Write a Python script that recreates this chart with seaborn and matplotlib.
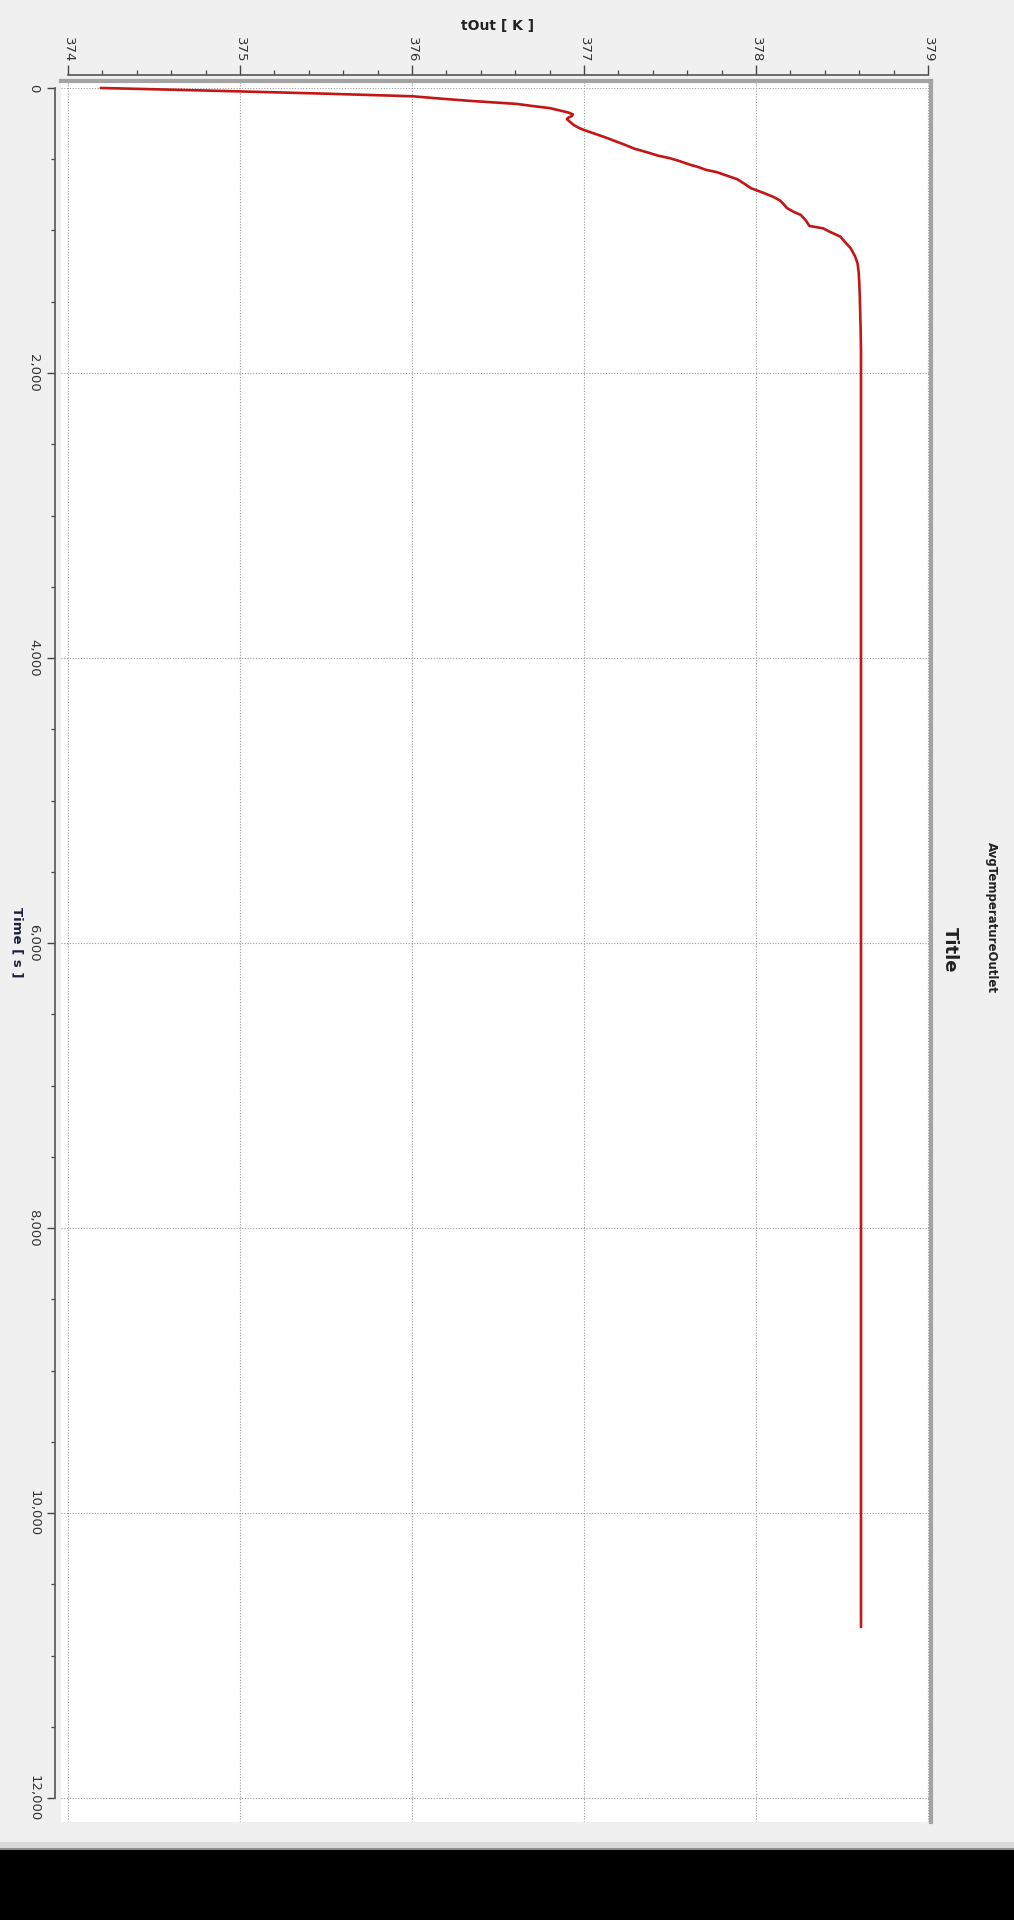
import matplotlib
matplotlib.use("Agg")
import matplotlib.pyplot as plt
import matplotlib.ticker as mticker
from matplotlib.patches import Rectangle
import seaborn as sns
import pandas as pd

# ---- data ----
time_s = [0, 12, 24, 40, 58, 75, 89, 100, 112, 128, 141, 158, 173, 185, 196, 207,
          218, 240, 260, 280, 295, 320, 345, 377, 400, 425, 456, 475, 493, 515,
          540, 553, 575, 590, 615, 640, 670, 703, 730, 764, 790, 815, 843, 870,
          891, 930, 968, 985, 1010, 1043, 1085, 1124, 1180, 1230, 1300, 1370,
          1460, 1558, 1700, 1838, 2500, 4000, 6000, 8000, 10000, 10800]
t_out = [374.19, 374.60, 375.00, 375.50, 376.00, 376.17, 376.32, 376.46, 376.61,
         376.71, 376.80, 376.86, 376.91, 376.935, 376.93, 376.91, 376.90, 376.92,
         376.94, 376.97, 377.00, 377.06, 377.12, 377.19, 377.24, 377.29, 377.38,
         377.43, 377.50, 377.56, 377.62, 377.66, 377.71, 377.77, 377.83, 377.89,
         377.93, 377.97, 378.03, 378.10, 378.14, 378.16, 378.18, 378.22, 378.26,
         378.29, 378.31, 378.39, 378.43, 378.49, 378.52, 378.55, 378.575, 378.59,
         378.597, 378.60, 378.603, 378.605, 378.608, 378.61, 378.61, 378.61,
         378.61, 378.61, 378.61, 378.61]

x_ticks = [374, 375, 376, 377, 378, 379]
x_tick_labels = ["374", "375", "376", "377", "378", "379"]
y_ticks = [0, 2000, 4000, 6000, 8000, 10000, 12000]
y_tick_labels = ["0", "2,000", "4,000", "6,000", "8,000", "10,000", "12,000"]

title_text = "Title"
legend_text = "AvgTemperatureOutlet"
x_label = "tOut [ K ]"
y_label = "Time [ s ]"

df = pd.DataFrame({"time": time_s, "tOut": t_out})

# ---- styling ----
sns.set_theme(style="white")
plt.rcParams["font.family"] = ["DejaVu Sans"]

W, H = 1014, 1920
fig = plt.figure(figsize=(W / 100, H / 100), dpi=100)
fig.patch.set_facecolor("#f0f0f0")

# bottom black band and separator
fig.patches.append(Rectangle((0, 0), 1, 70 / H, transform=fig.transFigure,
                             facecolor="black", edgecolor="none", zorder=0))
fig.patches.append(Rectangle((0, 70 / H), 1, 8 / H, transform=fig.transFigure,
                             facecolor="#d9d9d9", edgecolor="none", zorder=0))
fig.patches.append(Rectangle((0, 70 / H), 1, 2 / H, transform=fig.transFigure,
                             facecolor="#8c8c8c", edgecolor="none", zorder=0))

left_px, right_px, top_px, bot_px = 61, 931, 81, 1822
pos = [left_px / W, 1 - bot_px / H, (right_px - left_px) / W, (bot_px - top_px) / H]
ax = fig.add_axes(pos)
ax.set_facecolor("white")

sns.lineplot(data=df, x="tOut", y="time", sort=False, estimator=None,
             color="#c41616", linewidth=1.9, ax=ax, zorder=3)

ax.set_xlim(373.959, 379.017)
ax.set_ylim(12168, -49)

ax.xaxis.tick_top()
ax.xaxis.set_label_position("top")
ax.set_xticks(x_ticks, labels=x_tick_labels)
ax.xaxis.set_minor_locator(mticker.MultipleLocator(0.2))
ax.set_yticks(y_ticks, labels=y_tick_labels)
ax.yaxis.set_minor_locator(mticker.MultipleLocator(500))

ax.tick_params(axis="x", which="major", direction="out", length=7, width=1,
               color="#444444", labelsize=9.5, labelcolor="#333333", pad=2.5,
               top=True, bottom=False, labeltop=True, labelbottom=False,
               labelrotation=-90)
ax.tick_params(axis="x", which="minor", direction="out", length=3.5, width=0.9,
               color="#444444", top=True, bottom=False)
ax.tick_params(axis="y", which="major", direction="out", length=6, width=1,
               color="#444444", labelsize=9.5, labelcolor="#333333", pad=5,
               left=True, right=False, labelrotation=-90)
ax.tick_params(axis="y", which="minor", direction="out", length=3, width=0.9,
               color="#444444", left=True, right=False)
try:
    ax.tick_params(axis="both", which="major", labelrotation_mode="default")
except (TypeError, ValueError):
    pass

ax.grid(True, which="major", color="#9a9a9a", linestyle=(0, (1, 1.5)),
        linewidth=0.8)

for s in ["bottom", "right"]:
    ax.spines[s].set_visible(False)
ax.spines["left"].set_position(("outward", 4))
ax.spines["left"].set_bounds(0, 12000)
ax.spines["left"].set_color("#555555")
ax.spines["left"].set_linewidth(1.2)
ax.spines["top"].set_position(("outward", 4))
ax.spines["top"].set_bounds(374, 379)
ax.spines["top"].set_color("#555555")
ax.spines["top"].set_linewidth(1.2)

# thick frame on the top and right of the plot area
frame = fig.add_axes(pos, facecolor="none")
frame.set_xticks([])
frame.set_yticks([])
for s in ["left", "bottom"]:
    frame.spines[s].set_visible(False)
for s in ["top", "right"]:
    frame.spines[s].set_visible(True)
    frame.spines[s].set_color("#a3a3a3")
    frame.spines[s].set_linewidth(3)

ax.set_xlabel(x_label, fontsize=10, fontweight="bold", color="#222222")
ax.xaxis.set_label_coords((498 - left_px) / (right_px - left_px),
                          (bot_px - 26) / (bot_px - top_px))
ax.xaxis.label.set_va("center")
ax.set_ylabel(y_label, fontsize=9.5, fontweight="bold", color="#1e1e3a",
              rotation=-90)
ax.yaxis.set_label_coords((17 - left_px) / (right_px - left_px),
                          (bot_px - 942) / (bot_px - top_px))
ax.yaxis.label.set_va("center")
ax.yaxis.label.set_ha("center")

fig.text(950 / W, 1 - 950 / H, title_text, rotation=-90, fontsize=13,
         fontweight="bold", color="#222222", ha="center", va="center")
fig.text(991 / W, 1 - 918 / H, legend_text, rotation=-90, fontsize=8.5,
         fontweight="bold", color="#222222", ha="center", va="center")


def fix_tick_labels():
    for tick in ax.xaxis.get_major_ticks():
        for lab in (tick.label1, tick.label2):
            lab.set_rotation(-90)
            lab.set_rotation_mode("default")
            lab.set_ha("center")
            lab.set_va("bottom")
    for tick in ax.yaxis.get_major_ticks():
        for lab in (tick.label1, tick.label2):
            lab.set_rotation(-90)
            lab.set_rotation_mode("default")
            lab.set_ha("right")
            lab.set_va("center")


fix_tick_labels()
fig.canvas.draw()
fix_tick_labels()

fig.savefig("out.png", dpi=100, facecolor=fig.get_facecolor())
